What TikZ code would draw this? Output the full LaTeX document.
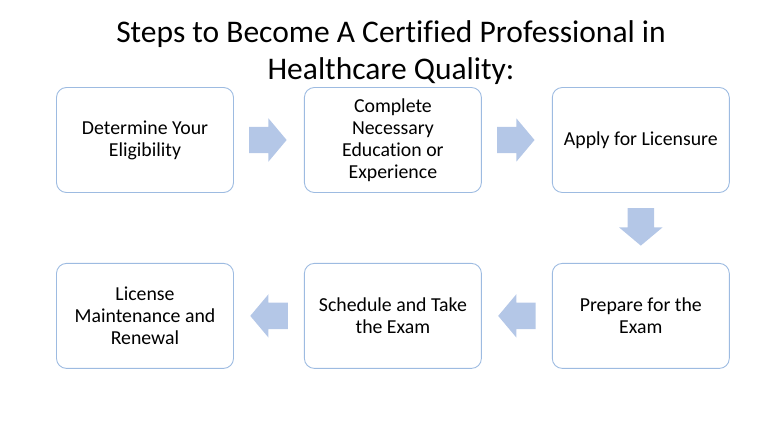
\documentclass[tikz,border=0pt]{standalone}
\usepackage{fontspec}
\setmainfont{Carlito}[Ligatures=NoCommon]
\usetikzlibrary{positioning,shapes.arrows,calc}
\definecolor{boxline}{RGB}{157,187,225}
\definecolor{arrowfill}{RGB}{180,199,231}
\begin{document}
\begin{tikzpicture}[x=1pt,y=1pt]

  \tikzstyle{stepbox} = [draw=boxline, line width=0.9pt, rounded corners=10pt, minimum width=177pt, minimum height=105pt, align=center, inner sep=0pt, font=\fontsize{19.8}{22}\selectfont]
  \tikzstyle{blockarrow} = [single arrow, fill=arrowfill, inner sep=13pt, minimum height=37pt, single arrow head extend=8.5pt, single arrow tip angle=100, anchor=tail]

  \useasboundingbox (0,0) rectangle (768,432);

  \node[anchor=base, align=center, font=\fontsize{31.5}{37.5}\selectfont] (title) at (391,352) {Steps to Become A Certified Professional in\\Healthcare Quality:};

  \node[stepbox] (elig) at (145,292) {Determine Your\\Eligibility};
  \node[stepbox, right=70pt of elig] (edu) {Complete\\Necessary\\Education or\\Experience};
  \node[stepbox, right=70pt of edu] (apply) {Apply for Licensure};
  \node[stepbox, below=70pt of apply] (prep) {Prepare for the\\Exam};
  \node[stepbox, left=70pt of prep] (exam) {Schedule and Take\\the Exam};
  \node[stepbox, left=70pt of exam] (renew) {License\\Maintenance and\\Renewal};

  \node[blockarrow] (arr1) at ($(elig.east)+(15,0)$) {};
  \node[blockarrow] (arr2) at ($(edu.east)+(15,0)$) {};
  \node[blockarrow, rotate=-90] (arr3) at ($(apply.south)+(0,-15)$) {};
  \node[blockarrow, rotate=180] (arr4) at ($(prep.west)+(-16,0)$) {};
  \node[blockarrow, rotate=180] (arr5) at ($(exam.west)+(-16,0)$) {};

\end{tikzpicture}
\end{document}
